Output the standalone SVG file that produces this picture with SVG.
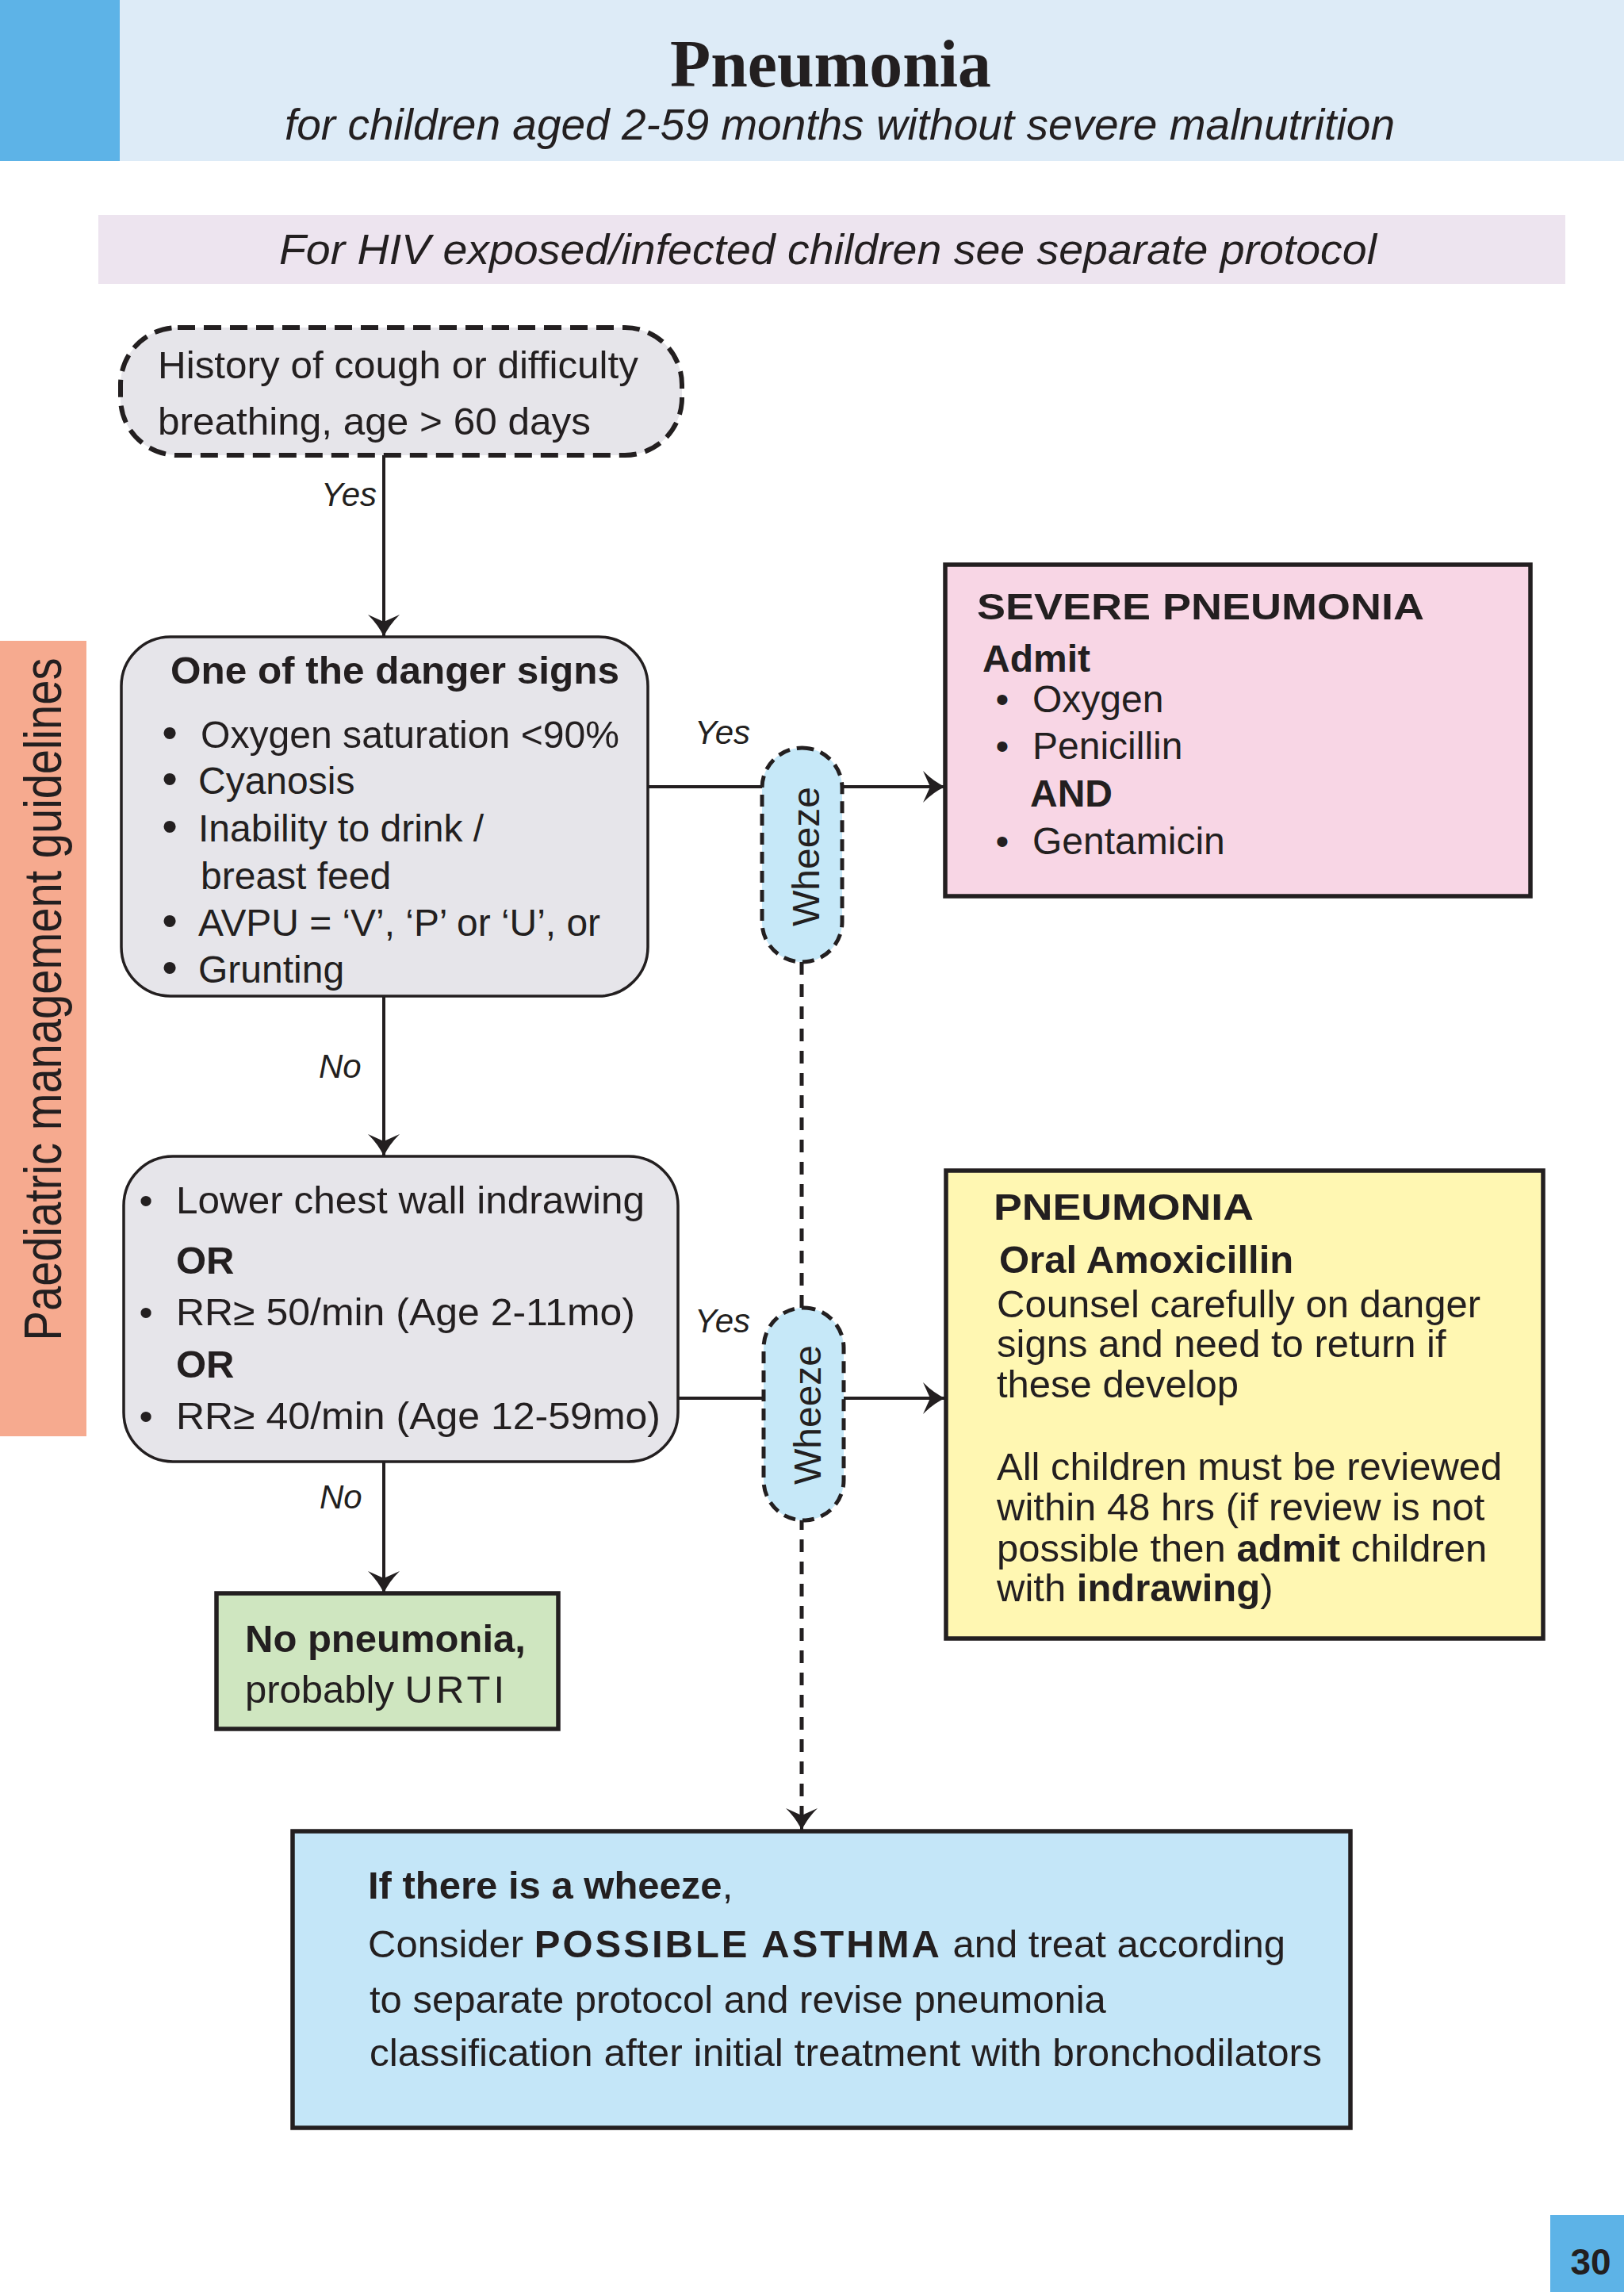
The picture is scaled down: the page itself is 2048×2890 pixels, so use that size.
<svg xmlns="http://www.w3.org/2000/svg" width="2048" height="2890" viewBox="0 0 2048 2890">
<style>
text{font-family:"Liberation Sans",Arial,Helvetica,sans-serif;fill:#231F20}
.b{font-weight:bold}
.i{font-style:italic}
.f48{font-size:48px}
.f49{font-size:49px}
.lbl{font-size:42px;font-style:italic}
.con{stroke:#231F20;stroke-width:4;fill:none}
.dash{stroke:#231F20;stroke-width:5;fill:none;stroke-dasharray:16 12}
.grey{fill:#E6E5EA;stroke:#231F20;stroke-width:3.5}
.box{stroke:#231F20;stroke-width:5.5}
.pill{fill:#C6E8F8;stroke:#231F20;stroke-width:5;stroke-dasharray:15 9}
</style>
<defs>
<marker id="ah" viewBox="0 0 28 40" refX="28" refY="20" markerWidth="28" markerHeight="40" markerUnits="userSpaceOnUse" orient="auto">
<path d="M0,0 Q14,14 28,20 Q14,26 0,40 L9,20 Z" fill="#231F20"/>
</marker>
</defs>
<rect width="2048" height="2890" fill="#FFFFFF"/>
<g id="header">
<rect x="0" y="0" width="2048" height="203" fill="#DDEBF7"/>
<rect x="0" y="0" width="151" height="203" fill="#5DB3E7"/>
<text x="845" y="109" style="font-family:'Liberation Serif','Times New Roman',serif;font-weight:bold;font-size:84px" textLength="405" lengthAdjust="spacingAndGlyphs">Pneumonia</text>
<text x="359" y="176" class="i" font-size="55" textLength="1400" lengthAdjust="spacingAndGlyphs">for children aged 2-59 months without severe malnutrition</text>
</g>
<g id="hiv-note">
<rect x="124" y="271" width="1850" height="87" fill="#EDE4EF"/>
<text x="352" y="333" class="i" font-size="54" textLength="1384" lengthAdjust="spacingAndGlyphs">For HIV exposed/infected children see separate protocol</text>
</g>
<g id="side-tab">
<rect x="0" y="808" width="109" height="1003" fill="#F6AA8F"/>
<text transform="translate(77,1260) rotate(-90)" text-anchor="middle" font-size="66" textLength="861" lengthAdjust="spacingAndGlyphs">Paediatric management guidelines</text>
</g>
<g id="connectors">
<line class="con" x1="484" y1="574" x2="484" y2="803" marker-end="url(#ah)"/>
<line class="con" x1="484" y1="1256" x2="484" y2="1458" marker-end="url(#ah)"/>
<line class="con" x1="484" y1="1843" x2="484" y2="2009" marker-end="url(#ah)"/>
<line class="con" x1="817" y1="992" x2="1192" y2="992" marker-end="url(#ah)"/>
<line class="con" x1="855" y1="1763" x2="1192" y2="1763" marker-end="url(#ah)"/>
<line class="dash" x1="1011" y1="1213" x2="1011" y2="2300"/>
<line class="con" x1="1011" y1="2290" x2="1011" y2="2308" marker-end="url(#ah)"/>
<text x="405" y="638" class="lbl">Yes</text>
<text x="402" y="1359" class="lbl">No</text>
<text x="403" y="1902" class="lbl">No</text>
<text x="876" y="938" class="lbl">Yes</text>
<text x="876" y="1680" class="lbl">Yes</text>
</g>
<g id="history">
<rect x="152" y="413" width="708" height="161" rx="72" ry="72" fill="#E6E5EA" stroke="#231F20" stroke-width="6" stroke-dasharray="22 11"/>
<text x="199" y="477" class="f48" textLength="606" lengthAdjust="spacingAndGlyphs">History of cough or difficulty</text>
<text x="199" y="548" class="f48" textLength="546" lengthAdjust="spacingAndGlyphs">breathing, age &gt; 60 days</text>
</g>
<g id="danger-signs">
<rect class="grey" x="153" y="803" width="664" height="453" rx="62" ry="62"/>
<text x="215" y="862" class="b" font-size="48" textLength="566" lengthAdjust="spacingAndGlyphs">One of the danger signs</text>
<g class="f48">
<text x="214" y="943" text-anchor="middle" font-size="56">•</text>
<text x="253" y="943" textLength="528" lengthAdjust="spacingAndGlyphs">Oxygen saturation &lt;90%</text>
<text x="214" y="1001" text-anchor="middle" font-size="56">•</text>
<text x="250" y="1001">Cyanosis</text>
<text x="214" y="1061" text-anchor="middle" font-size="56">•</text>
<text x="250" y="1061">Inability to drink /</text>
<text x="253" y="1121">breast feed</text>
<text x="214" y="1180" text-anchor="middle" font-size="56">•</text>
<text x="250" y="1180" textLength="507" lengthAdjust="spacingAndGlyphs">AVPU = ‘V’, ‘P’ or ‘U’, or</text>
<text x="214" y="1239" text-anchor="middle" font-size="56">•</text>
<text x="250" y="1239">Grunting</text>
</g>
</g>
<g id="indrawing">
<rect class="grey" x="156" y="1458" width="699" height="385" rx="62" ry="62"/>
<g class="f49">
<text x="184" y="1530" text-anchor="middle">•</text>
<text x="222" y="1530" textLength="591" lengthAdjust="spacingAndGlyphs">Lower chest wall indrawing</text>
<text x="222" y="1606" class="b">OR</text>
<text x="184" y="1671" text-anchor="middle">•</text>
<text x="222" y="1671" textLength="579" lengthAdjust="spacingAndGlyphs">RR≥ 50/min (Age 2-11mo)</text>
<text x="222" y="1737" class="b">OR</text>
<text x="184" y="1802" text-anchor="middle">•</text>
<text x="222" y="1802" textLength="611" lengthAdjust="spacingAndGlyphs">RR≥ 40/min (Age 12-59mo)</text>
</g>
</g>
<g id="no-pneumonia">
<rect class="box" x="273" y="2009" width="431" height="171" fill="#CFE6C0"/>
<text x="309" y="2083" class="b f49">No pneumonia,</text>
<text x="309" y="2147" class="f49">probably <tspan letter-spacing="4">URTI</tspan></text>
</g>
<g id="wheeze-1">
<rect class="pill" x="961" y="943" width="101" height="270" rx="50.5" ry="50.5"/>
<text transform="translate(1033,1080) rotate(-90)" text-anchor="middle" class="f48">Wheeze</text>
</g>
<g id="wheeze-2">
<rect class="pill" x="963" y="1649" width="101" height="268" rx="50.5" ry="50.5"/>
<text transform="translate(1035,1784) rotate(-90)" text-anchor="middle" class="f48">Wheeze</text>
</g>
<g id="severe-pneumonia">
<rect class="box" x="1192" y="712" width="738" height="418" fill="#F8D6E5"/>
<text x="1232" y="781" class="b" font-size="47" textLength="564" lengthAdjust="spacingAndGlyphs">SEVERE PNEUMONIA</text>
<text x="1239" y="847" class="b f48">Admit</text>
<g class="f48">
<text x="1264" y="898" text-anchor="middle">•</text>
<text x="1302" y="898">Oxygen</text>
<text x="1264" y="957" text-anchor="middle">•</text>
<text x="1302" y="957">Penicillin</text>
<text x="1299" y="1017" class="b">AND</text>
<text x="1264" y="1077" text-anchor="middle">•</text>
<text x="1302" y="1077">Gentamicin</text>
</g>
</g>
<g id="pneumonia">
<rect class="box" x="1193" y="1476" width="753" height="590" fill="#FFF7B2"/>
<text x="1253" y="1538" class="b" font-size="47" textLength="328" lengthAdjust="spacingAndGlyphs">PNEUMONIA</text>
<g class="f49">
<text x="1260" y="1605" class="b">Oral Amoxicillin</text>
<text x="1257" y="1661">Counsel carefully on danger</text>
<text x="1257" y="1711">signs and need to return if</text>
<text x="1257" y="1762">these develop</text>
<text x="1257" y="1866">All children must be reviewed</text>
<text x="1257" y="1917">within 48 hrs (if review is not</text>
<text x="1257" y="1969">possible then <tspan class="b">admit</tspan> children</text>
<text x="1257" y="2019">with <tspan class="b">indrawing</tspan>)</text>
</g>
</g>
<g id="possible-asthma">
<rect class="box" x="369" y="2309" width="1334" height="374" fill="#C4E6F8"/>
<g class="f49">
<text x="464" y="2394"><tspan class="b">If there is a wheeze</tspan>,</text>
<text x="464" y="2468">Consider <tspan class="b" letter-spacing="3">POSSIBLE ASTHMA</tspan> and treat according</text>
<text x="466" y="2538">to separate protocol and revise pneumonia</text>
<text x="466" y="2605" textLength="1201" lengthAdjust="spacingAndGlyphs">classification after initial treatment with bronchodilators</text>
</g>
</g>
<g id="page-number">
<rect x="1955" y="2793" width="93" height="97" fill="#5DB3E7"/>
<text x="2006" y="2868" text-anchor="middle" class="b" font-size="46">30</text>
</g>
</svg>
